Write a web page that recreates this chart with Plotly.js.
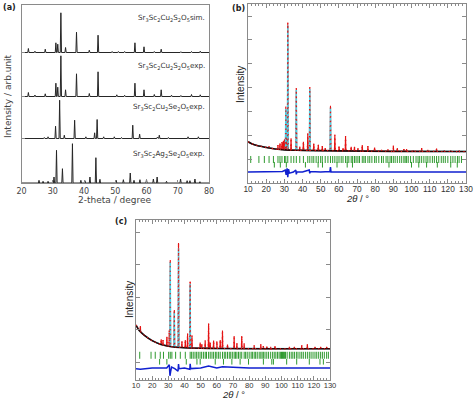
<!DOCTYPE html>
<html><head><meta charset="utf-8">
<script src="https://cdn.plot.ly/plotly-3.0.1.min.js"></script>
<style>html,body{margin:0;padding:0;background:#fff}#g{width:474px;height:399px}</style>
</head><body><div id="g"></div>
<script>
// ---------- Panel (a): peak positions (2-theta) and heights ----------
const simPos = [22.2, 24.3, 27.6, 31.0, 31.6, 32.6, 34.1, 37.6, 41.7, 44.5, 49.0, 51.0, 53.0, 56.3, 59.2, 62.5, 64.7, 71.0, 74.4, 77.2];
const simH   = [4, 1.3, 3.3, 9.7, 8.3, 39.7, 5, 20.3, 2.3, 17.3, 1, 1, 1, 9.7, 5.7, 1, 3.3, 0.8, 1, 1.3];
const cusPos = [22.2, 24.3, 27.6, 31.0, 31.6, 32.6, 34.1, 37.6, 41.7, 44.5, 50.5, 53.0, 56.3, 59.2, 62.5, 64.7, 68.0, 71.0, 74.4, 77.2];
const cusH   = [4, 1.5, 2.7, 13.3, 9.3, 40.7, 6.7, 22.7, 3, 24.7, 1.7, 1.2, 13.3, 6.7, 2, 6.7, 1.3, 1, 2, 1.7];
const cusePos = [27.3, 28.5, 30.9, 32.2, 33.7, 37.0, 40.6, 43.4, 44.2, 46.3, 49.7, 52.0, 55.6, 57.8, 63.5, 64.1, 67.0, 73.3, 76.6];
const cuseH   = [1, 1.7, 12.3, 38.3, 3.3, 18.3, 1.7, 5.7, 19, 1.7, 1.7, 1, 13.3, 4.3, 1.5, 3.3, 1, 1.7, 1.7];
const agPos = [25.6, 26.9, 28.5, 30.4, 31.2, 33.1, 36.3, 39.0, 40.3, 41.9, 43.8, 45.1, 50.3, 52.6, 54.8, 56.0, 57.9, 60.0, 62.2, 63.4, 66.4, 70.9, 73.0, 73.9, 75.5, 77.1];
const agH   = [2.7, 1.7, 1.7, 6, 32.7, 14.3, 39.3, 2.7, 2.3, 6, 25.3, 3.7, 2.7, 3.3, 10, 2.7, 3.3, 3.3, 4, 6, 1.7, 4, 2.3, 2.3, 4, 1.3];
const sampleLabels = [
  "Sr<sub>3</sub>Sc<sub>2</sub>Cu<sub>2</sub>S<sub>2</sub>O<sub>5</sub>sim.",
  "Sr<sub>3</sub>Sc<sub>2</sub>Cu<sub>2</sub>S<sub>2</sub>O<sub>5</sub>exp.",
  "Sr<sub>3</sub>Sc<sub>2</sub>Cu<sub>2</sub>Se<sub>2</sub>O<sub>5</sub>exp.",
  "Sr<sub>3</sub>Sc<sub>2</sub>Ag<sub>2</sub>Se<sub>2</sub>O<sub>5</sub>exp."
];
const aTicks = [20, 30, 40, 50, 60, 70, 80];

// ---------- Panel (b): Rietveld data ----------
const bBgX = [10, 12, 15, 20, 25, 30, 40, 60, 90, 130];
const bBgY = [0.76, 0.68, 0.6, 0.52, 0.46, 0.42, 0.40, 0.38, 0.36, 0.35];
const bPos = [21.6, 26.5, 27.6, 28.7, 29.5, 30.1, 30.8, 31.3, 31.9, 33.7, 36.6, 38.5, 40.5, 42.9, 44.0, 46.2, 48.7, 50.9, 52.5, 55.4, 57.8, 60.1, 62.3, 63.7, 66.8, 68.6, 70.5, 72.9, 76.0, 79.7, 83.5, 87.0, 90.0, 92.2, 95.8, 97.3, 101, 105.6, 109, 113.8, 118, 121.6, 126.2];
const bTop = [0.56, 0.62, 0.7, 0.75, 0.8, 0.85, 2.22, 0.9, 5.72, 0.9, 2.99, 0.55, 0.76, 1.1, 3.03, 0.68, 0.63, 0.58, 0.5, 2.26, 1.05, 0.57, 0.5, 1.0, 0.55, 0.55, 0.48, 0.62, 0.58, 0.52, 0.42, 0.44, 0.6, 0.5, 0.45, 0.45, 0.4, 0.5, 0.42, 0.48, 0.4, 0.4, 0.4];
const bCalcPos = [30.8, 31.9, 36.6, 44.0, 55.4];
const bCalcTop = [2.12, 5.6, 2.92, 2.96, 2.18];
const bRef1 = [11.5, 16, 19, 21.6, 24, 26.5, 27.6, 28.7, 30.1, 30.8, 31.9, 33.7, 35.2, 36.6, 38.5, 40.5, 42.9, 44.0, 45.2, 46.2, 47.5, 48.7, 50.0, 50.9, 52.5, 54.0, 55.4, 56.6, 57.8, 59.0, 60.1, 61.3, 62.3, 63.7, 64.6, 65.5, 66.8, 67.6, 68.6, 69.5, 70.5, 71.4, 72.9, 73.8, 74.6, 76.0, 77.0, 78.2, 79.7, 80.6, 82.0, 83.5, 84.5, 86.0, 87.0, 88.2, 89.0, 90.0, 91.0, 92.2, 93.5, 94.6, 95.8, 96.5, 97.3, 98.2, 99.5, 101, 102.5, 103.6, 104.5, 105.6, 106.8, 108, 109, 110.2, 111.5, 112.6, 113.8, 115, 116.4, 117.5, 118.6, 120, 121.6, 122.8, 124, 125.3, 126.2, 127.5];
const bRef2 = [24.5, 27.8, 31.1, 41.6, 48.6, 51.0, 59.0, 64.6, 67.5, 87.6, 100, 104, 108.3, 114.2, 121.6, 125.2];
const bDiffX = [10, 20, 29, 30.5, 31.0, 31.5, 31.9, 32.3, 32.8, 35, 36.3, 36.6, 36.9, 40, 43.7, 44.0, 44.3, 50, 55.1, 55.4, 55.7, 60, 75, 90, 110, 130];
const bDiffY = [-0.5, -0.5, -0.48, -0.42, -0.62, -0.35, -0.72, -0.38, -0.55, -0.5, -0.42, -0.6, -0.5, -0.5, -0.42, -0.56, -0.48, -0.5, -0.48, -0.3, -0.5, -0.5, -0.5, -0.49, -0.5, -0.5];

// ---------- Panel (c): Rietveld data ----------
const cBgX = [10, 12, 15, 20, 25, 30, 40, 60, 90, 130];
const cBgY = [1.14, 0.97, 0.83, 0.66, 0.55, 0.49, 0.44, 0.42, 0.41, 0.41];
const cPos = [12.7, 18.8, 25.6, 26.7, 29.1, 30.6, 31.2, 33.7, 36.3, 38.4, 40.5, 41.9, 43.5, 44.6, 49.7, 50.7, 52.8, 54.9, 55.9, 58.0, 60.0, 62.1, 63.5, 66.6, 70.7, 72.4, 75.4, 76.9, 83.1, 87.2, 88.8, 90.9, 93.3, 96.0, 104.9, 108.0, 112.5, 116.0, 120.7, 124.2, 127.9];
const cTop = [1.11, 0.72, 0.7, 0.68, 0.78, 0.98, 3.14, 1.6, 3.66, 0.64, 0.68, 0.88, 2.47, 0.82, 0.6, 0.55, 0.66, 1.19, 0.6, 0.66, 0.64, 0.68, 0.97, 0.54, 0.8, 0.58, 0.8, 0.57, 0.52, 0.55, 0.49, 0.48, 0.47, 0.49, 0.47, 0.47, 0.52, 0.55, 0.47, 0.47, 0.47];
const cCalcPos = [31.2, 33.7, 36.3, 43.5];
const cCalcTop = [3.08, 1.55, 3.5, 2.4];
const cRef1 = [12.3, 19.3, 21.9, 25.0, 27.0, 30.2, 31.2, 32.2, 34.5, 37.4, 40.5, 43.5, 44.4, 45.4, 46.5, 47.5, 48.5, 49.6, 50.6, 51.7, 52.8, 53.6, 54.9, 55.9, 57.0, 58.0, 59.1, 60.0, 61.1, 62.1, 63.5, 64.6, 65.5, 66.6, 67.7, 68.6, 69.6, 70.7, 71.5, 72.4, 73.4, 74.4, 75.4, 76.9, 77.8, 78.8, 80.0, 81.2, 82.0, 83.1, 84.0, 85.0, 86.2, 87.2, 88.0, 88.8, 89.8, 90.9, 92.0, 93.3, 94.5, 95.5, 96.5, 97.5, 98.5, 99.3, 100.0, 100.6, 101.2, 101.8, 102.5, 103.5, 104.9, 106.0, 107.0, 108.0, 109.2, 110.2, 111.4, 112.5, 113.5, 114.8, 116.0, 117.2, 118.3, 119.5, 120.7, 121.8, 123.0, 124.2, 125.3, 126.5, 127.9, 129.0];
const cRef2 = [24.6, 29.1, 41.1, 47.7, 49.7, 59.0, 64.1, 69.3, 74.4, 79.6, 88.8, 94.0, 95.0, 103.2, 109.4, 117.2, 123.8, 125.9];
const cDiffX = [10, 12.7, 20, 29, 30.6, 31.0, 31.4, 32, 34, 36.0, 36.3, 36.6, 40, 43.3, 43.5, 43.8, 50, 54.9, 60, 63.5, 70, 80, 100, 130];
const cDiffY = [-0.2, -0.22, -0.18, -0.18, -0.08, -0.42, -0.3, -0.15, -0.2, -0.28, -0.06, -0.2, -0.18, -0.22, -0.05, -0.2, -0.18, -0.12, -0.18, -0.14, -0.16, -0.18, -0.18, -0.18];
const rietTicks = [10, 20, 30, 40, 50, 60, 70, 80, 90, 100, 110, 120, 130];

// ---------- helpers ----------
function lerp(xs, ys, x) {
  if (x <= xs[0]) return ys[0];
  for (let i = 1; i < xs.length; i++) {
    if (x <= xs[i]) { const t = (x - xs[i-1]) / (xs[i] - xs[i-1]); return ys[i-1] + t * (ys[i] - ys[i-1]); }
  }
  return ys[ys.length - 1];
}
function sticks(pos, h, base, x0, x1, w) {
  const pts = [[x0, base], [x1, base]];
  pos.forEach((p, i) => { pts.push([p - w, base], [p, base + h[i]], [p + w, base]); });
  pts.sort((a, b) => a[0] - b[0]);
  return { x: pts.map(p => p[0]), y: pts.map(p => p[1]) };
}
function profile(bgX, bgY, pos, top, w) {
  const pts = bgX.map((x, i) => [x, bgY[i]]);
  pos.forEach((p, i) => {
    pts.push([p - w, lerp(bgX, bgY, p - w)], [p, Math.max(top[i], lerp(bgX, bgY, p))], [p + w, lerp(bgX, bgY, p + w)]);
  });
  pts.sort((a, b) => a[0] - b[0]);
  return { x: pts.map(p => p[0]), y: pts.map(p => p[1]) };
}

const traces = [];
const offsets = [130.5, 86.5, 44.5, 0];
[[simPos, simH], [cusPos, cusH], [cusePos, cuseH], [agPos, agH]].forEach((s, k) => {
  const d = sticks(s[0], s[1], offsets[k], 20, 80, 0.2);
  traces.push({ x: d.x, y: d.y, xaxis: 'x', yaxis: 'y', mode: 'lines', line: { color: '#262626', width: 1 }, hoverinfo: 'skip' });
});

function rietveld(bgX, bgY, pos, top, cPosA, cTopA, ref1, ref2, r1y, r2y, dX, dY, xa, ya) {
  const obs = profile(bgX, bgY, pos, top, 0.22);
  const calc = profile(bgX, bgY, cPosA, cTopA, 0.22);
  traces.push({ x: obs.x, y: obs.y, xaxis: xa, yaxis: ya, mode: 'lines', line: { color: '#e41414', width: 1.1 } });
  traces.push({ x: calc.x, y: calc.y, xaxis: xa, yaxis: ya, mode: 'lines', line: { color: '#45d4e8', width: 1.4 } });
  traces.push({ x: bgX, y: bgY, xaxis: xa, yaxis: ya, mode: 'lines', line: { color: '#2a0505', width: 1.6, shape: 'spline' } });
  traces.push({ x: obs.x, y: obs.y, xaxis: xa, yaxis: ya, mode: 'lines', line: { color: '#e41414', width: 1.2, dash: '1.2px,3.3px' } });
  traces.push({ x: ref1, y: ref1.map(() => r1y), xaxis: xa, yaxis: ya, mode: 'markers',
    marker: { symbol: 'line-ns', size: 5, line: { color: '#2f9a2f', width: 1 } } });
  traces.push({ x: ref2, y: ref2.map(() => r2y), xaxis: xa, yaxis: ya, mode: 'markers',
    marker: { symbol: 'line-ns', size: 4, line: { color: '#2f9a2f', width: 1 } } });
  traces.push({ x: dX, y: dY, xaxis: xa, yaxis: ya, mode: 'lines', line: { color: '#1020d0', width: 1.5 } });
}
rietveld(bBgX, bBgY, bPos, bTop, bCalcPos, bCalcTop, bRef1, bRef2, 0.02, -0.2, bDiffX, bDiffY, 'x2', 'y2');
rietveld(cBgX, cBgY, cPos, cTop, cCalcPos, cCalcTop, cRef1, cRef2, 0.21, 0.01, cDiffX, cDiffY, 'x3', 'y3');

const W = 474, H = 399;
const px = v => v / W, py = v => 1 - v / H;
const frame = '#8a8a8a';
const rietX = (dom, fs, so) => ({
  domain: dom, range: [10, 130], tickvals: rietTicks, ticks: 'inside', ticklen: 4, tickcolor: frame, tickangle: 0,
  ticklabelstandoff: so,
  showline: true, linecolor: frame, mirror: 'allticks', showgrid: false, zeroline: false,
  minor: { dtick: 2, ticks: 'inside', ticklen: 2, tickcolor: frame },
  tickfont: { family: 'Liberation Sans, Arial', size: fs, color: '#333' }
});
const rietY = (dom, rng) => ({
  domain: dom, range: rng, dtick: 1, tick0: 0, ticks: 'inside', ticklen: 4, tickcolor: frame,
  showticklabels: false, showline: true, linecolor: frame, mirror: 'allticks', showgrid: false, zeroline: false
});

const ann = [];
sampleLabels.forEach((t, k) => {
  ann.push({ text: t, x: 79.3, y: offsets[k] + [34, 30, 31, 29][k], xref: 'x', yref: 'y', xanchor: 'right', yanchor: 'middle', showarrow: false,
    font: { family: 'DejaVu Sans', size: 7.2, color: '#333' } });
});
const lab = (t, x, y, opt) => Object.assign({ text: t, x: px(x), y: py(y), xref: 'paper', yref: 'paper', showarrow: false,
  xanchor: 'center', yanchor: 'middle' }, opt);
ann.push(lab('<b>(a)</b>', 9.5, 7, { font: { family: 'DejaVu Sans', size: 8, color: '#222' } }));
ann.push(lab('Intensity / arb.unit', 8, 96, { textangle: -90, font: { family: 'DejaVu Sans', size: 9, color: '#444' } }));
ann.push(lab('2-theta / degree', 115, 199.5, { font: { family: 'DejaVu Sans', size: 9, color: '#444' } }));
ann.push(lab('<b>(b)</b>', 238.5, 8, { font: { family: 'DejaVu Sans', size: 8, color: '#222' } }));
ann.push(lab('Intensity', 241, 85, { textangle: -90, font: { family: 'Liberation Sans, Arial', size: 10, color: '#222' } }));
ann.push(lab('<i>2θ</i> / °', 357, 198.8, { font: { family: 'Liberation Sans, Arial', size: 9.5, color: '#222' } }));
ann.push(lab('<b>(c)</b>', 121, 221, { font: { family: 'DejaVu Sans', size: 8, color: '#222' } }));
ann.push(lab('Intensity', 129, 300, { textangle: -90, font: { family: 'Liberation Sans, Arial', size: 10, color: '#222' } }));
ann.push(lab('<i>2θ</i> / °', 233, 394, { font: { family: 'Liberation Sans, Arial', size: 9.5, color: '#222' } }));

const layout = {
  width: W, height: H, margin: { l: 0, r: 0, t: 0, b: 0 }, showlegend: false,
  paper_bgcolor: '#fff', plot_bgcolor: '#fff',
  xaxis: { domain: [px(21.5), px(209)], range: [20, 80], tickvals: aTicks, ticks: 'inside', ticklen: 3, tickcolor: frame, tickangle: 0,
    showline: true, linecolor: frame, mirror: true, showgrid: false, zeroline: false,
    tickfont: { family: 'DejaVu Sans', size: 8, color: '#444' } },
  yaxis: { domain: [1 - 183 / H, 1 - 5 / H], range: [0, 178], tickvals: [44.5, 86.5, 130.5], ticks: 'inside', ticklen: 3, tickcolor: frame,
    showticklabels: false, showline: true, linecolor: frame, mirror: true, showgrid: false, zeroline: false },
  xaxis2: Object.assign(rietX([px(248), px(466)], 8.3, -2), { anchor: 'y2' }),
  yaxis2: Object.assign(rietY([1 - 183 / H, 1 - 4 / H], [-0.96, 6.5]), { anchor: 'x2' }),
  xaxis3: Object.assign(rietX([px(136), px(330)], 7.6, -2), { anchor: 'y3' }),
  yaxis3: Object.assign(rietY([1 - 380 / H, 1 - 220 / H], [-0.55, 4.37]), { anchor: 'x3' }),
  annotations: ann
};
Plotly.newPlot('g', traces, layout, { displayModeBar: false, staticPlot: true });
</script></body></html>
